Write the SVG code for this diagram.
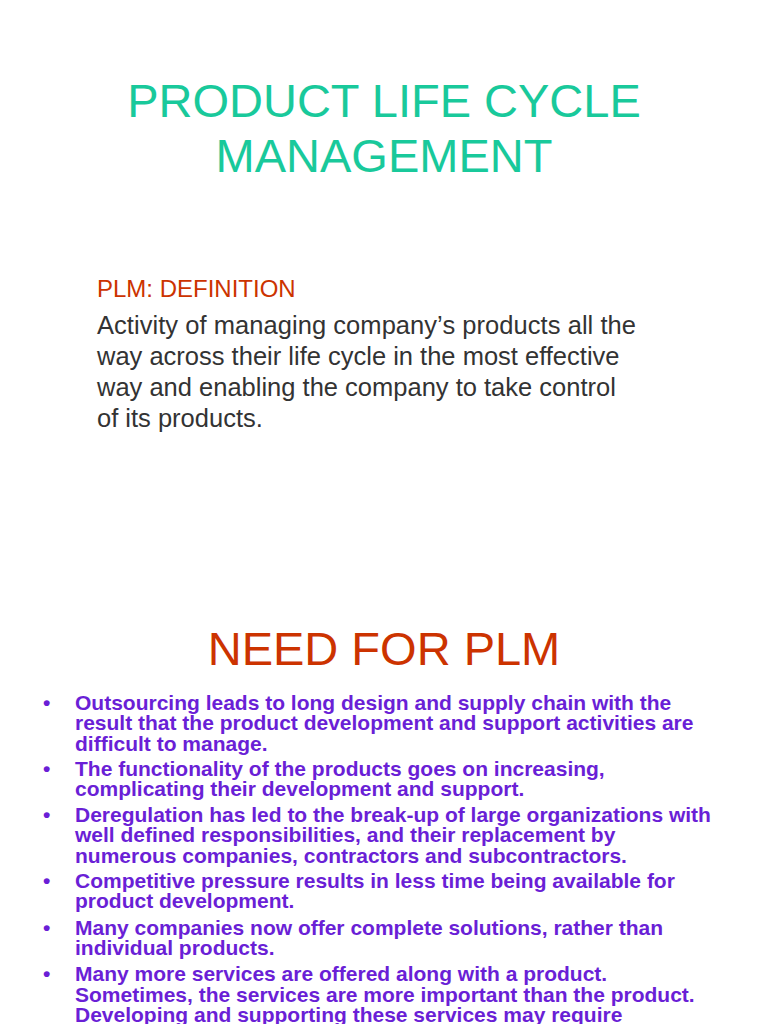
<svg xmlns="http://www.w3.org/2000/svg" width="768" height="1024" viewBox="0 0 768 1024">
<style>
.t{font-family:"Liberation Sans",Arial,sans-serif}
.title{fill:#19C99B;font-size:47px}
.h{fill:#CC3300}
.body{fill:#333333;font-size:25.5px}
.b{fill:#6A1FD6;font-size:21px;font-weight:bold}
</style>
<rect width="768" height="1024" fill="#ffffff"/>
<text class="t title" x="384" y="117" text-anchor="middle">PRODUCT LIFE CYCLE</text>
<text class="t title" x="384" y="172" text-anchor="middle">MANAGEMENT</text>
<text class="t h" x="97" y="297" font-size="24">PLM: DEFINITION</text>
<g class="t body">
<text x="97" y="334" textLength="539">Activity of managing company’s products all the</text>
<text x="97" y="365">way across their life cycle in the most effective</text>
<text x="97" y="396">way and enabling the company to take control</text>
<text x="97" y="427">of its products.</text>
</g>
<text class="t h" x="384" y="665" font-size="47" text-anchor="middle">NEED FOR PLM</text>
<g class="t b" xml:space="preserve">
<text x="43" y="710">•</text>
<text x="75" y="710">Outsourcing  leads to long design  and supply chain  with the</text>
<text x="75" y="730">result that the product development and support activities are</text>
<text x="75" y="751">difficult to manage.</text>
<text x="43" y="776">•</text>
<text x="75" y="776">The functionality of the products goes on increasing,</text>
<text x="75" y="796">complicating their development and support.</text>
<text x="43" y="822">•</text>
<text x="75" y="822">Deregulation has led to the break-up of large organizations with</text>
<text x="75" y="842">well defined responsibilities, and their replacement by</text>
<text x="75" y="863">numerous companies, contractors and subcontractors.</text>
<text x="43" y="888">•</text>
<text x="75" y="888">Competitive pressure results in less time being available for</text>
<text x="75" y="908">product development.</text>
<text x="43" y="935">•</text>
<text x="75" y="935">Many companies now offer complete solutions, rather than</text>
<text x="75" y="955">individual products.</text>
<text x="43" y="981">•</text>
<text x="75" y="981">Many more services are offered along with a product.</text>
<text x="75" y="1002">Sometimes, the services are more important than the product.</text>
<text x="75" y="1022">Developing and supporting these services may require</text>
</g>
</svg>
